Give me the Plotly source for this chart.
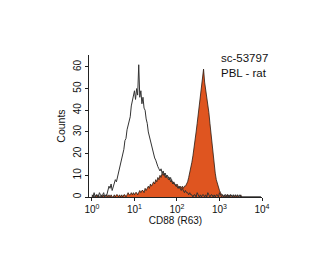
import plotly.graph_objects as go

# log10 bin centres, step 0.025 from 0 to 3.975
log_bins = [round(i * 0.025, 3) for i in range(160)]

control_counts = [
    1, 0, 2, 0, 1, 1, 0, 2, 1, 0, 1, 2, 0, 1, 1,
    3, 5, 4, 6, 3, 5, 6, 8, 7, 9, 11, 13, 15, 18, 20, 22, 26, 27, 31, 33, 36, 37, 42, 44, 47,
    49, 45, 50, 47, 61, 46, 49, 43, 46, 41, 40, 36, 34, 30, 28, 26, 24, 21, 20, 18,
    17, 15, 14, 13, 12, 13, 11, 12, 10, 11, 9, 10, 9, 8, 9, 7, 7, 6, 6, 5,
    5, 4, 5, 4, 3, 4, 3, 2, 3, 2, 2, 1, 2, 1,
    1, 0, 1, 1, 0, 2, 1, 0, 1, 0, 1, 1, 0, 1, 0, 2, 1, 0, 1, 1, 0, 1, 0, 1, 1, 0, 2, 1, 0, 1,
    0, 1, 1, 0, 1, 0, 1, 1, 0, 1, 0, 1, 0, 1, 0, 1, 0,
    0, 0, 0, 0, 0, 0, 0, 0, 0, 0, 0, 0, 0, 0, 0, 0, 0, 0, 0,
]

cd88_counts = [
    0, 1, 0, 0, 1, 0, 1, 0, 0, 1, 0, 1, 0, 0, 1, 0, 1, 0, 1, 0, 0, 1, 0, 1, 1, 0, 1, 0,
    1, 0, 1, 1, 0, 1, 2, 1, 1, 2, 1, 2, 1, 2, 2, 1, 2, 3, 2, 3, 3, 2,
    4, 3, 4, 5, 4, 6, 5, 6, 7, 6, 8, 7, 9, 8, 10, 9, 11, 10, 11, 9,
    10, 9, 8, 9, 7, 8, 6, 7, 6, 5, 6, 5, 4, 5, 4, 5, 4, 5, 5, 6,
    7, 9, 11, 13, 16, 19, 22, 26, 30, 34, 38, 43, 46, 50, 54, 59, 53, 50, 47, 43,
    39, 34, 29, 24, 19, 15, 11, 8, 6, 4, 3, 2, 1,
    1, 0, 1, 0, 1, 1, 0, 1, 0, 0, 1, 0, 1, 0, 1, 0, 0, 1,
    0, 0, 0, 0, 0, 0, 0, 0, 0, 0, 0, 0, 0, 0, 0, 0, 0, 0, 0,
]

x_tick_vals = [1, 10, 100, 1000, 10000]
x_tick_text = ["10<sup>0</sup>", "10<sup>1</sup>", "10<sup>2</sup>", "10<sup>3</sup>", "10<sup>4</sup>"]
y_tick_vals = [0, 10, 20, 30, 40, 50, 60]

x_vals = [10 ** v for v in log_bins]

FONT = "Liberation Sans Narrow, Arial Narrow, Liberation Sans, Arial, sans-serif"

fig = go.Figure()
fig.add_trace(go.Scatter(
    x=x_vals, y=cd88_counts, mode="lines",
    line=dict(color="#2a1a12", width=0.8),
    fill="tozeroy", fillcolor="#DF5520",
    showlegend=False, hoverinfo="skip",
))
fig.add_trace(go.Scatter(
    x=x_vals, y=control_counts, mode="lines",
    line=dict(color="#333333", width=1),
    showlegend=False, hoverinfo="skip",
))

fig.update_layout(
    width=320, height=275,
    margin=dict(l=89, r=58, t=55, b=78),
    paper_bgcolor="white", plot_bgcolor="white",
    font=dict(family=FONT, size=10, color="#111"),
    xaxis=dict(
        type="log", range=[-0.07, 4.0],
        tickvals=x_tick_vals, ticktext=x_tick_text,
        showgrid=False, zeroline=False,
        showline=True, linecolor="#222", linewidth=1,
        ticks="outside", ticklen=3, tickcolor="#222",
        tickfont=dict(size=10),
        title=dict(text="CD88 (R63)", font=dict(size=10), standoff=1),
    ),
    yaxis=dict(
        range=[0, 65.5],
        tickvals=y_tick_vals, tickangle=-90,
        showgrid=False, zeroline=False,
        showline=True, linecolor="#222", linewidth=1,
        ticks="outside", ticklen=3, tickcolor="#222",
        tickfont=dict(size=10),
        title=dict(text="Counts", font=dict(size=10.5), standoff=4),
    ),
    annotations=[
        dict(text="sc-53797<br>PBL - rat", x=3.0, xref="x", y=1.035, yref="paper",
             showarrow=False, align="left", xanchor="left", yanchor="top",
             font=dict(size=11.5, family=FONT)),
    ],
)

fig.write_html("out.html")
